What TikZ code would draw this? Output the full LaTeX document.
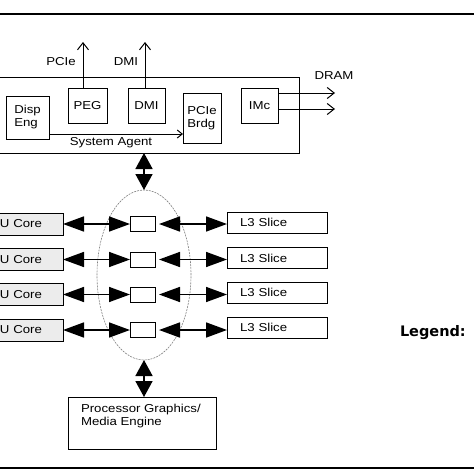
\documentclass[tikz,border=0pt]{standalone}
\usepackage{fontspec}
\setmainfont{Liberation Sans}[FakeStretch=1.15]
\newfontfamily\legendfont{DejaVu Sans}
\usetikzlibrary{arrows.meta, shapes.geometric}

\begin{document}
\begin{tikzpicture}[x=1pt, y=-1pt,
    every node/.style={font=\fontsize{11.5pt}{13pt}\selectfont, inner sep=0pt, outer sep=0pt},
    box/.style={draw, line width=1pt},
    unit/.style={box, minimum width=37pt, minimum height=35pt},
    core/.style={box, fill=gray!15, minimum width=120pt, minimum height=22pt, text width=78pt, align=right},
    slice/.style={box, minimum width=100pt, minimum height=21pt, text width=74pt, align=left},
    stop/.style={box, minimum width=25pt, minimum height=15pt},
    thin/.style={line width=1pt, -{Straight Barb[length=7pt, width=11pt]}},
    fat/.style={line width=1.6pt, {Triangle[length=21pt, width=15pt]}-{Triangle[length=21pt, width=15pt]}},
    vfat/.style={line width=1.6pt, {Triangle[length=16pt, width=17pt]}-{Triangle[length=16pt, width=17pt]}}]
    \useasboundingbox (0,0) rectangle (474,474);
    \clip (0,0) rectangle (474,474);
    \def \rowa {224}
    \def \rowb {259.5}
    \def \rowc {294.5}
    \def \rowd {330}
    % frame lines
    \draw[line width=1.2pt] (0,14) -- (474,14);
    \draw[line width=1.2pt] (0,468) -- (474,468);
    % system agent
    \node[box, minimum width=320pt, minimum height=76pt] (agent) at (139,115) {};
    \node (agentlbl) at (111,143) {System Agent};
    \node[box, minimum width=43pt, minimum height=43pt, align=left] (disp) at (27.5,117.5) {Disp\\Eng};
    \node[unit, minimum width=39pt] (peg) at (87.5,105.5) {PEG};
    \node[unit] (dmi) at (146.5,105.5) {DMI};
    \node[box, minimum width=38pt, minimum height=50pt, align=left] (brdg) at (202,118) {PCIe\\Brdg};
    \node[unit] (imc) at (259.5,105.5) {IMc};
    \coordinate (pcieout) at (83,42);
    \coordinate (dmiout) at (145,42);
    \coordinate (drama) at (335,93);
    \coordinate (dramb) at (335,109);
    \node (pcielbl) at (61,62) {PCIe};
    \node (dmilbl) at (126,62) {DMI};
    \node (dramlbl) at (334,76) {DRAM};
    \draw[thin] (peg.north -| pcieout) -- (pcieout);
    \draw[thin] (dmi.north -| dmiout) -- (dmiout);
    \draw[thin] (imc.east |- drama) -- (drama);
    \draw[thin] (imc.east |- dramb) -- (dramb);
    \draw[line width=1pt, -{Straight Barb[length=5pt, width=8pt]}] ([yshift=-16.5pt]disp.east) -- ([yshift=-16.5pt]disp.east -| brdg.west);
    % ring
    \node[ellipse, draw=gray, dash pattern=on 2pt off 1pt, line width=0.6pt, minimum width=94pt, minimum height=170pt] (ring) at (144,275) {};
    \node[stop] (s1) at (142.5,\rowa) {};
    \node[stop] (s2) at (142.5,\rowb) {};
    \node[stop] (s3) at (142.5,\rowc) {};
    \node[stop] (s4) at (142.5,\rowd) {};
    \node[core] (c1) at (3,\rowa) {U Core};
    \node[core] (c2) at (3,\rowb) {U Core};
    \node[core] (c3) at (3,\rowc) {U Core};
    \node[core] (c4) at (3,\rowd) {U Core};
    \node[slice] (l1) at (277,\rowa-1.5) {L3 Slice};
    \node[slice] (l2) at (277,\rowb-1.5) {L3 Slice};
    \node[slice] (l3) at (277,\rowc-2) {L3 Slice};
    \node[slice] (l4) at (277,\rowd-2.5) {L3 Slice};
    \draw[fat] (c1.east) -- (s1.west);
    \draw[fat] (c2.east) -- (s2.west);
    \draw[fat] (c3.east) -- (s3.west);
    \draw[fat] (c4.east) -- (s4.west);
    \draw[fat, shorten <=4pt] (s1.east) -- (s1.east -| l1.west);
    \draw[fat, shorten <=4pt] (s2.east) -- (s2.east -| l2.west);
    \draw[fat, shorten <=4pt] (s3.east) -- (s3.east -| l3.west);
    \draw[fat, shorten <=4pt] (s4.east) -- (s4.east -| l4.west);
    % graphics
    \node[box, minimum width=148pt, minimum height=52pt] (gfx) at (142,423) {};
    \node[anchor=north west, align=left] (gfxlbl) at ([xshift=13pt, yshift=-7pt]gfx.north west) {Processor Graphics/\\Media Engine};
    \draw[vfat] (agent.south -| ring.north) -- (ring.north);
    \draw[vfat] (ring.south) -- (ring.south |- gfx.north);
    \node[anchor=west, font=\legendfont\bfseries\fontsize{14.5pt}{16pt}\selectfont] (legend) at (400,333) {Legend:};
\end{tikzpicture}
\end{document}
